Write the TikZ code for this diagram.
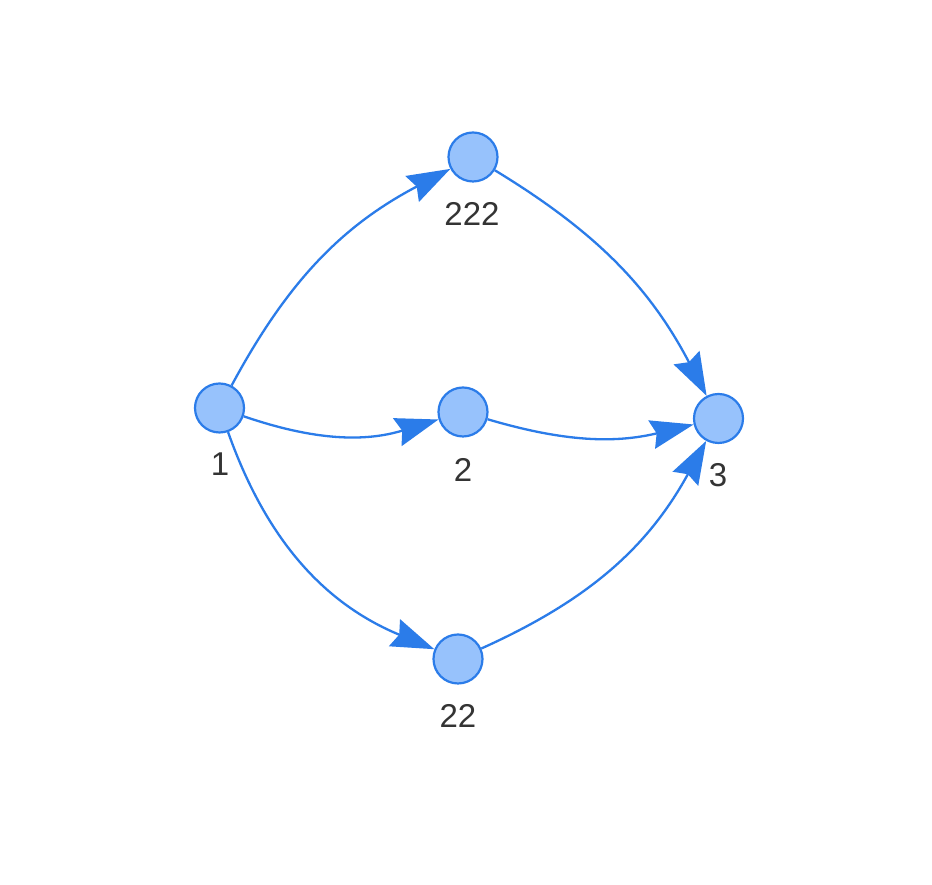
\documentclass[tikz,border=0pt]{standalone}
\usepackage{fontspec}
\setmainfont{Liberation Sans}
\usetikzlibrary{arrows.meta}
\definecolor{nodefill}{HTML}{97C2FC}
\definecolor{nodeline}{HTML}{2B7CE9}
\definecolor{txt}{HTML}{343434}
\begin{document}
\begin{tikzpicture}[x=1pt,y=1pt,
  vnode/.style={circle,draw=nodeline,fill=nodefill,line width=2.2pt,minimum size=49pt,inner sep=0pt},
  lbl/.style={inner sep=0pt,text=txt,font=\fontsize{33}{40}\selectfont},
  edge/.style={draw=nodeline,line width=2.3pt,-{Stealth[length=43pt,width=29pt,inset=5pt]}}]
\useasboundingbox (0,0) rectangle (932,885);
\fill[white] (0,0) rectangle (932,885);
\node[vnode] (n1) at (219.5,477) {};
\node[vnode] (n222) at (473,728) {};
\node[vnode] (n2) at (463,473) {};
\node[vnode] (n22) at (458,226) {};
\node[vnode] (n3) at (718.5,466.5) {};
\node[lbl] (l1) at (220,421) {1};
\node[lbl] (l222) at (472,671) {222};
\node[lbl] (l2) at (463,415) {2};
\node[lbl] (l22) at (458,169) {22};
\node[lbl] (l3) at (718,410) {3};
\draw[edge] (n1) to[bend left=17] (n222);
\draw[edge] (n222) to[bend left=15.5] (n3);
\draw[edge] (n1) to[bend right=18] (n2);
\draw[edge] (n2) to[bend right=15] (n3);
\draw[edge] (n1) to[bend right=24] (n22);
\draw[edge] (n22) to[bend right=18.5] (n3);
\end{tikzpicture}
\end{document}
